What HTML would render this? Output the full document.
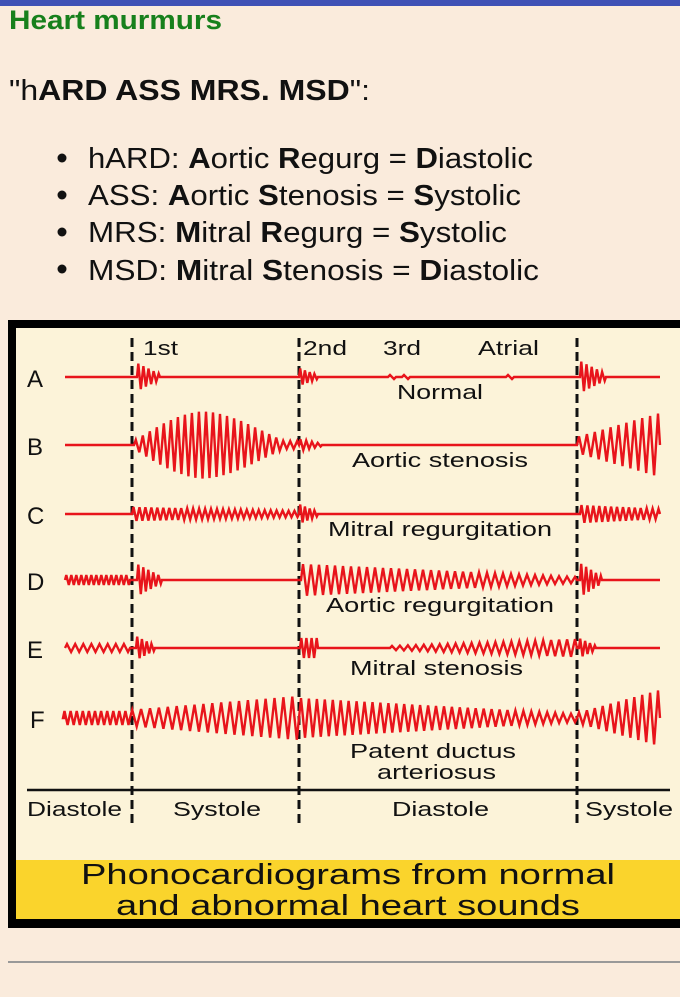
<!DOCTYPE html>
<html><head><meta charset="utf-8"><style>
html,body{margin:0;padding:0;width:680px;height:997px;overflow:hidden;background:#faebdc;font-family:"Liberation Sans",sans-serif;}
.bar{position:absolute;left:0;top:0;width:680px;height:6px;background:#3f51b5;}
svg{position:absolute;left:0;top:0;}
</style></head><body>
<div class="bar"></div>
<svg width="680" height="997" xmlns="http://www.w3.org/2000/svg" font-family="Liberation Sans, sans-serif">
<text x="9" y="29" font-size="27" font-weight="bold" fill="#17801c" textLength="213" lengthAdjust="spacingAndGlyphs">Heart murmurs</text>
<text x="9" y="100" font-size="29" fill="#111" textLength="361" lengthAdjust="spacingAndGlyphs">"h<tspan font-weight="bold">ARD ASS MRS. MSD</tspan>":</text>
<g fill="#111">
<circle cx="62" cy="158" r="4.5"/><circle cx="62" cy="195" r="4.5"/><circle cx="62" cy="232" r="4.5"/><circle cx="62" cy="269" r="4.5"/>
</g>
<g font-size="29" fill="#111">
<text x="88" y="168" textLength="445" lengthAdjust="spacingAndGlyphs">hARD: <tspan font-weight="bold">A</tspan>ortic <tspan font-weight="bold">R</tspan>egurg = <tspan font-weight="bold">D</tspan>iastolic</text>
<text x="88" y="205" textLength="433" lengthAdjust="spacingAndGlyphs">ASS: <tspan font-weight="bold">A</tspan>ortic <tspan font-weight="bold">S</tspan>tenosis = <tspan font-weight="bold">S</tspan>ystolic</text>
<text x="88" y="242" textLength="419" lengthAdjust="spacingAndGlyphs">MRS: <tspan font-weight="bold">M</tspan>itral <tspan font-weight="bold">R</tspan>egurg = <tspan font-weight="bold">S</tspan>ystolic</text>
<text x="88" y="280" textLength="451" lengthAdjust="spacingAndGlyphs">MSD: <tspan font-weight="bold">M</tspan>itral <tspan font-weight="bold">S</tspan>tenosis = <tspan font-weight="bold">D</tspan>iastolic</text>
</g>
<rect x="8" y="320" width="680" height="608" fill="#000"/>
<rect x="16" y="328" width="680" height="532" fill="#fcf3d9"/>
<rect x="16" y="860" width="680" height="59" fill="#fad42c"/>
<g stroke="#111" stroke-width="3" stroke-dasharray="9,5">
<line x1="132" y1="338" x2="132" y2="828"/>
<line x1="299" y1="338" x2="299" y2="828"/>
<line x1="577" y1="338" x2="577" y2="828"/>
</g>
<line x1="27" y1="790" x2="670" y2="790" stroke="#111" stroke-width="2.5"/>
<g id="w" fill="none" stroke="#e8141b" stroke-width="2.4"></g>
<g font-size="24" fill="#111">
<text x="27" y="387">A</text><text x="27" y="455">B</text><text x="27" y="524">C</text>
<text x="27" y="590">D</text><text x="27" y="658">E</text><text x="30" y="728">F</text>
</g>
<g font-size="20.5" fill="#111">
<text x="143" y="355" textLength="35" lengthAdjust="spacingAndGlyphs">1st</text>
<text x="303" y="355" textLength="44" lengthAdjust="spacingAndGlyphs">2nd</text>
<text x="383" y="355" textLength="38" lengthAdjust="spacingAndGlyphs">3rd</text>
<text x="478" y="355" textLength="61" lengthAdjust="spacingAndGlyphs">Atrial</text>
<text x="397" y="399" textLength="86" lengthAdjust="spacingAndGlyphs">Normal</text>
<text x="352" y="467" textLength="176" lengthAdjust="spacingAndGlyphs">Aortic stenosis</text>
<text x="328" y="536" textLength="224" lengthAdjust="spacingAndGlyphs">Mitral regurgitation</text>
<text x="326" y="612" textLength="228" lengthAdjust="spacingAndGlyphs">Aortic regurgitation</text>
<text x="350" y="675" textLength="173" lengthAdjust="spacingAndGlyphs">Mitral stenosis</text>
<text x="350" y="758" textLength="166" lengthAdjust="spacingAndGlyphs">Patent ductus</text>
<text x="377" y="779" textLength="119" lengthAdjust="spacingAndGlyphs">arteriosus</text>
<text x="27" y="816" textLength="95" lengthAdjust="spacingAndGlyphs">Diastole</text>
<text x="173" y="816" textLength="88" lengthAdjust="spacingAndGlyphs">Systole</text>
<text x="392" y="816" textLength="97" lengthAdjust="spacingAndGlyphs">Diastole</text>
<text x="585" y="816" textLength="88" lengthAdjust="spacingAndGlyphs">Systole</text>
</g>
<g font-size="29" fill="#111">
<text x="81" y="884" textLength="534" lengthAdjust="spacingAndGlyphs">Phonocardiograms from normal</text>
<text x="116" y="915" textLength="464" lengthAdjust="spacingAndGlyphs">and abnormal heart sounds</text>
</g>
<line x1="8" y1="962" x2="680" y2="962" stroke="#999" stroke-width="2"/>
</svg>
<script>
var g=document.getElementById('w');
function row(y,segs){var d="M65 "+y;
segs.forEach(function(s){var x0=s[0],x1=s[1],a=s[2],p=s[3];d+=" L"+x0+" "+y;var n=Math.max(1,Math.round((x1-x0)/p));var sg=1;
for(var i=0;i<n;i++){var t=(i+0.5)/n;var amp=a(t);d+=" L"+(x0+(i+0.5)*(x1-x0)/n).toFixed(1)+" "+(y-sg*amp).toFixed(1);sg=-sg;}
d+=" L"+x1+" "+y;});
d+=" L660 "+y;var p=document.createElementNS("http://www.w3.org/2000/svg","path");p.setAttribute("d",d);g.appendChild(p);}
function dec(a){return function(t){return a*(1-t*0.8);}}
function c(a){return function(){return a;}}
function lin(a,b){return function(t){return a+(b-a)*t;}}
row(377,[[137,160,dec(14),2.5],[299,318,dec(9),2.5],[388,396,c(2),4],[402,410,c(2),4],[506,514,c(2),4],[580,606,dec(16),2.5]]);
row(445,[[134,299,function(t){return 4+30*Math.sin(Math.PI*Math.min(1,t*1.1))*(t<0.4?1:1-0.6*(t-0.4));},3.5],[299,322,dec(6),3],[577,660,lin(8,32),4]]);
row(514,[[132,299,lin(7,3),3],[299,318,dec(10),2.5],[580,660,lin(9,5),3]]);
row(580,[[65,130,c(5),2.5],[137,162,dec(16),2.5],[301,577,lin(16,3),4],[580,602,dec(17),2.5]]);
row(648,[[65,130,c(4),4],[136,155,dec(12),2.5],[300,318,c(10),2.5],[390,577,lin(2,9),4],[579,596,dec(10),2.5]]);
row(718,[[63,130,c(7),3],[130,299,lin(8,22),4.5],[299,577,lin(20,4),4],[577,660,lin(5,28),4]]);
</script>
</body></html>
